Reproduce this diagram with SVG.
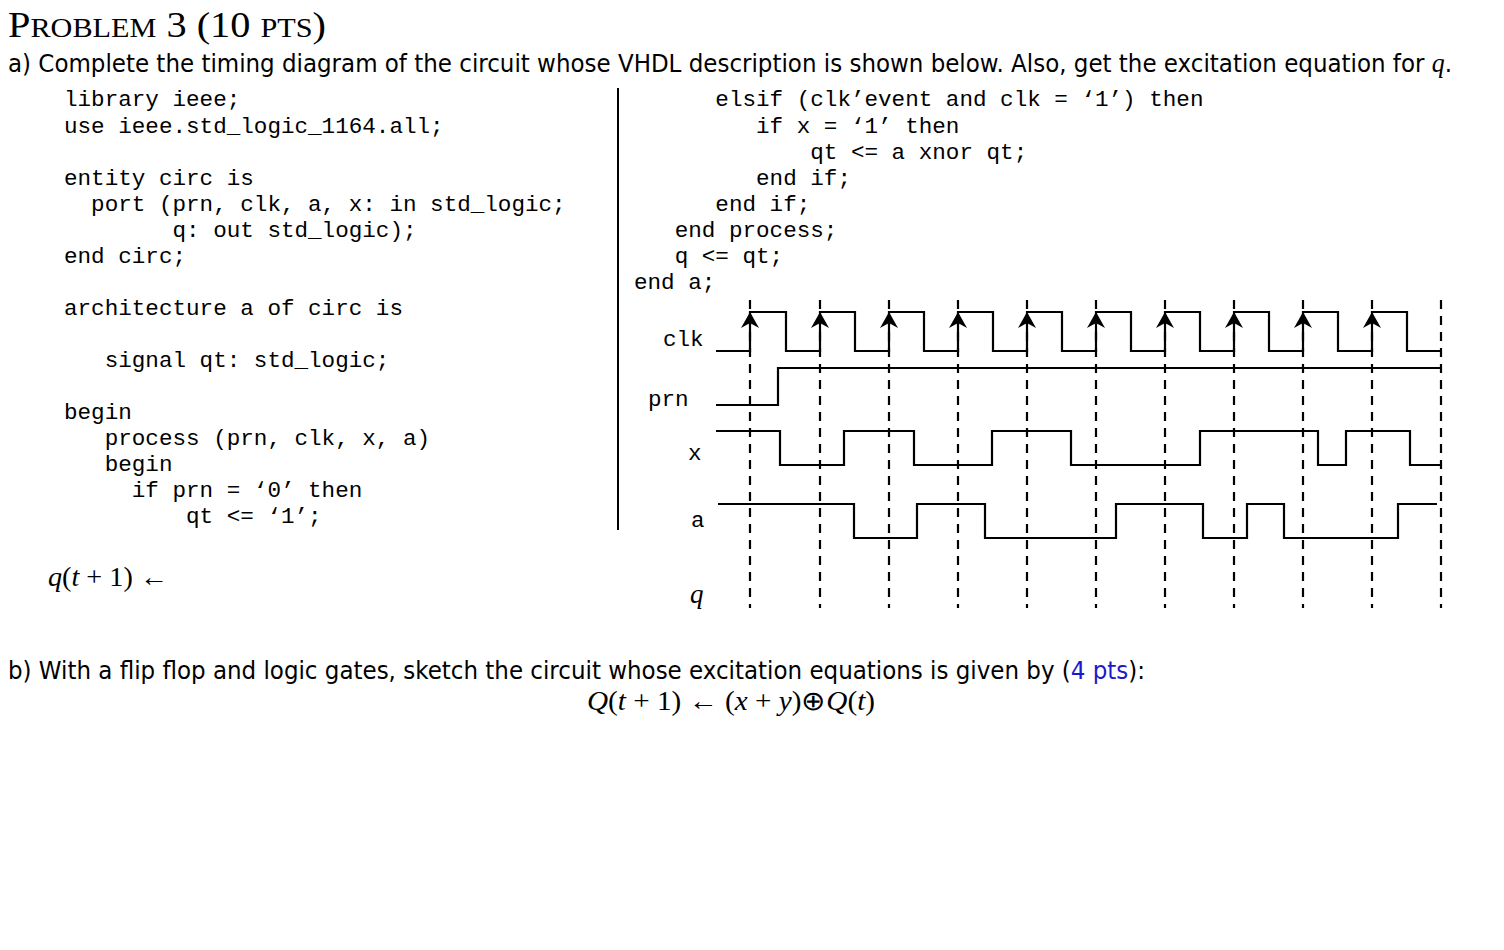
<svg xmlns="http://www.w3.org/2000/svg" width="1504" height="950" viewBox="0 0 1504 950">
<style>
.c{font-family:"Liberation Mono",monospace;font-size:22.6px;fill:#000;white-space:pre}
.t{font-family:"DejaVu Sans","Liberation Sans",sans-serif;font-size:24px;fill:#000}
.m{font-family:"Liberation Serif",serif;font-size:27px;fill:#000}
.w{fill:none;stroke:#000;stroke-width:2.2}
.d{stroke:#000;stroke-width:2.2;stroke-dasharray:9,7}
</style>
<rect width="1504" height="950" fill="#fff"/>
<text x="8" y="37" font-family="Liberation Serif,serif" font-size="36" textLength="318" lengthAdjust="spacingAndGlyphs">P<tspan font-size="27">ROBLEM</tspan> 3 (10 <tspan font-size="27">PTS</tspan>)</text>
<text class="t" x="8" y="72" textLength="1444" lengthAdjust="spacingAndGlyphs">a)  Complete the timing diagram of the circuit whose VHDL description is shown below. Also, get the excitation equation for <tspan class="m" font-style="italic">q</tspan>.</text>
<g id="code-left">
<text class="c" x="64" y="106">library ieee;</text>
<text class="c" x="64" y="133">use ieee.std_logic_1164.all;</text>
<text class="c" x="64" y="185">entity circ is</text>
<text class="c" x="64" y="211">  port (prn, clk, a, x: in std_logic;</text>
<text class="c" x="64" y="237">        q: out std_logic);</text>
<text class="c" x="64" y="263">end circ;</text>
<text class="c" x="64" y="315">architecture a of circ is</text>
<text class="c" x="64" y="367">   signal qt: std_logic;</text>
<text class="c" x="64" y="419">begin</text>
<text class="c" x="64" y="445">   process (prn, clk, x, a)</text>
<text class="c" x="64" y="471">   begin</text>
<text class="c" x="64" y="497">     if prn = ‘0’ then</text>
<text class="c" x="64" y="523">         qt &lt;= ‘1’;</text>
</g>
<line x1="618" y1="88" x2="618" y2="530" stroke="#000" stroke-width="2"/>
<g id="code-right">
<text class="c" x="634" y="106">      elsif (clk’event and clk = ‘1’) then</text>
<text class="c" x="634" y="133">         if x = ‘1’ then</text>
<text class="c" x="634" y="159">             qt &lt;= a xnor qt;</text>
<text class="c" x="634" y="185">         end if;</text>
<text class="c" x="634" y="211">      end if;</text>
<text class="c" x="634" y="237">   end process;</text>
<text class="c" x="634" y="263">   q &lt;= qt;</text>
<text class="c" x="634" y="289">end a;</text>
</g>
<text class="m" x="48" y="586" textLength="120" lengthAdjust="spacingAndGlyphs"><tspan font-style="italic">q</tspan>(<tspan font-style="italic">t</tspan> + 1) ←</text>
<g id="labels">
<text class="c" x="663" y="346">clk</text>
<text class="c" x="648" y="406">prn</text>
<text class="c" x="688" y="460">x</text>
<text class="c" x="691" y="527">a</text>
<text class="m" x="690" y="603" font-style="italic">q</text>
</g>
<g id="grid">
<line class="d" x1="750" y1="300" x2="750" y2="608"/>
<line class="d" x1="820" y1="300" x2="820" y2="608"/>
<line class="d" x1="889" y1="300" x2="889" y2="608"/>
<line class="d" x1="958" y1="300" x2="958" y2="608"/>
<line class="d" x1="1027" y1="300" x2="1027" y2="608"/>
<line class="d" x1="1096" y1="300" x2="1096" y2="608"/>
<line class="d" x1="1165" y1="300" x2="1165" y2="608"/>
<line class="d" x1="1234" y1="300" x2="1234" y2="608"/>
<line class="d" x1="1303" y1="300" x2="1303" y2="608"/>
<line class="d" x1="1372" y1="300" x2="1372" y2="608"/>
<line class="d" x1="1441" y1="300" x2="1441" y2="608"/>
</g>
<g id="waves">
<path class="w" d="M716,351 H750 V312 H786 V351 H820 V312 H855 V351 H889 V312 H924 V351 H958 V312 H993 V351 H1027 V312 H1062 V351 H1096 V312 H1131 V351 H1165 V312 H1200 V351 H1234 V312 H1269 V351 H1303 V312 H1338 V351 H1372 V312 H1407 V351 H1441"/>
<g fill="#000">
<path d="M750,312 l-9,16 l9,-5 l9,5 z"/><path d="M820,312 l-9,16 l9,-5 l9,5 z"/><path d="M889,312 l-9,16 l9,-5 l9,5 z"/><path d="M958,312 l-9,16 l9,-5 l9,5 z"/><path d="M1027,312 l-9,16 l9,-5 l9,5 z"/><path d="M1096,312 l-9,16 l9,-5 l9,5 z"/><path d="M1165,312 l-9,16 l9,-5 l9,5 z"/><path d="M1234,312 l-9,16 l9,-5 l9,5 z"/><path d="M1303,312 l-9,16 l9,-5 l9,5 z"/><path d="M1372,312 l-9,16 l9,-5 l9,5 z"/>
</g>
<path class="w" d="M716,405 H778 V368 H1441"/>
<path class="w" d="M716,431 H780 V465 H844 V431 H914 V465 H992 V431 H1071 V465 H1200 V431 H1318 V465 H1346 V431 H1410 V465 H1441"/>
<path class="w" d="M718,504 H854 V538 H917 V504 H985 V538 H1116 V504 H1203 V538 H1247 V504 H1284 V538 H1398 V504 H1437"/>
</g>
<text class="t" x="8" y="679" textLength="1137" lengthAdjust="spacingAndGlyphs">b)  With a flip flop and logic gates, sketch the circuit whose excitation equations is given by (<tspan fill="#1a1acc">4 pts</tspan>):</text>
<text class="m" x="587" y="710" textLength="288" lengthAdjust="spacingAndGlyphs"><tspan font-style="italic">Q</tspan>(<tspan font-style="italic">t</tspan> + 1) ← (<tspan font-style="italic">x</tspan> + <tspan font-style="italic">y</tspan>)⊕<tspan font-style="italic">Q</tspan>(<tspan font-style="italic">t</tspan>)</text>
</svg>
